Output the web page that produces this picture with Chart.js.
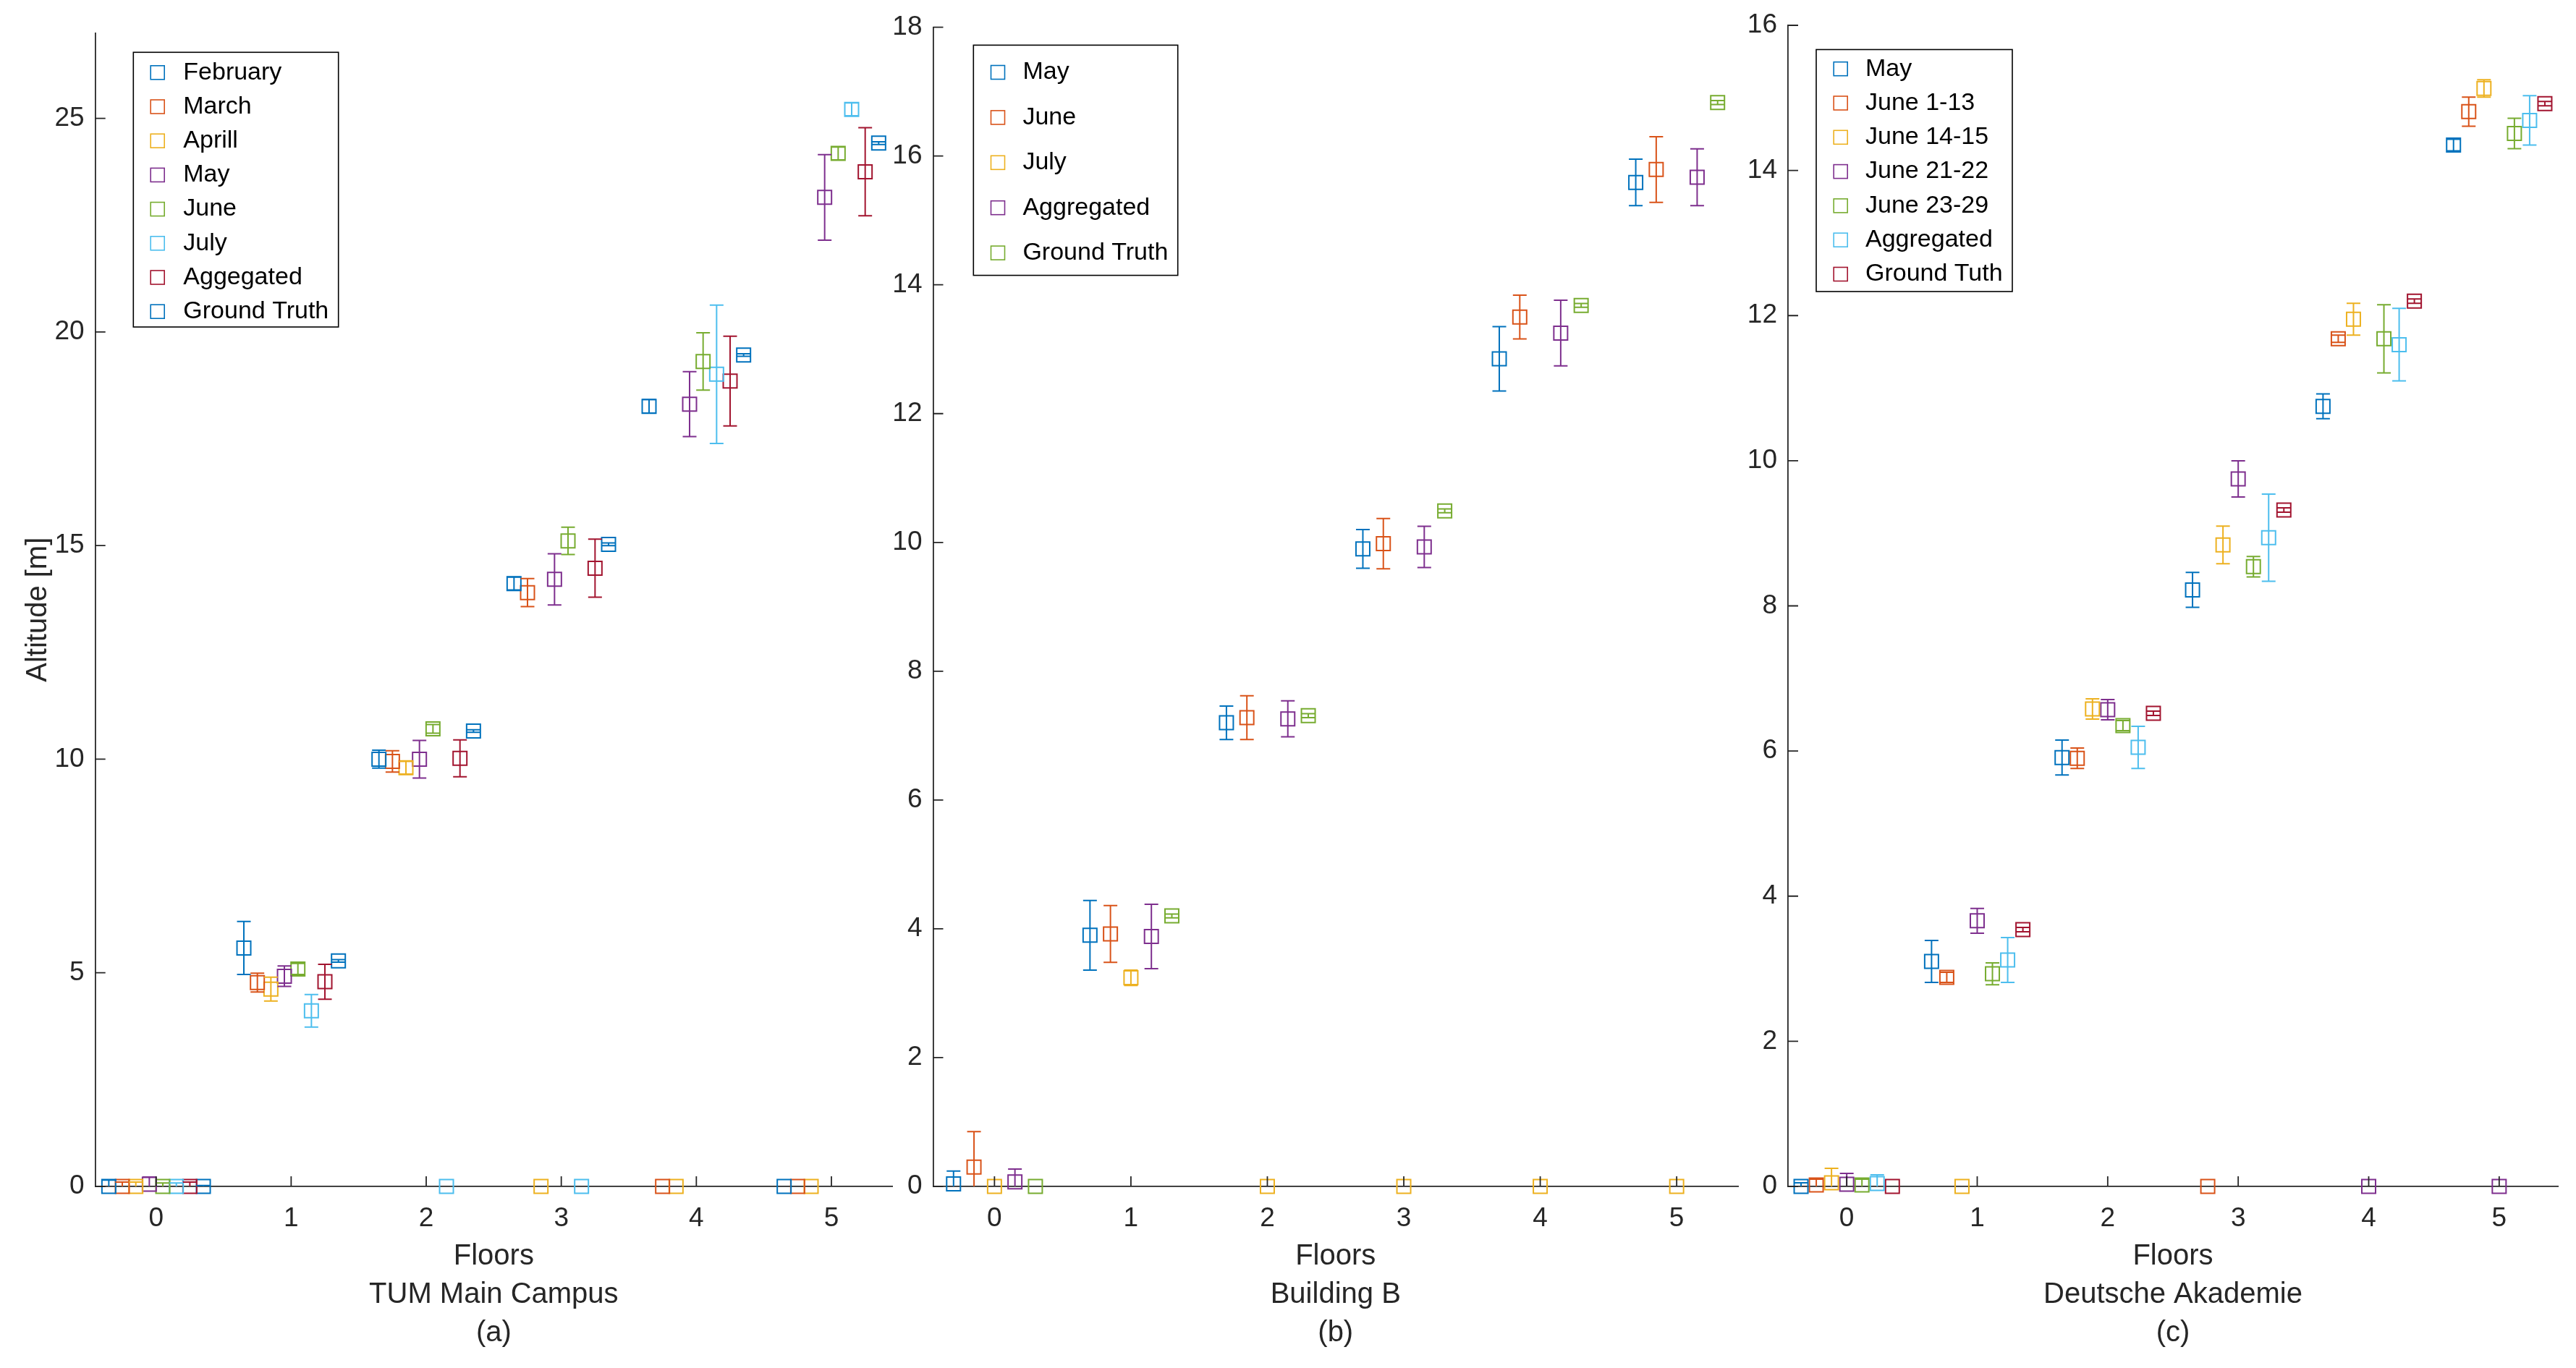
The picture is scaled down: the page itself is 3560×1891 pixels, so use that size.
<!DOCTYPE html>
<html><head><meta charset="utf-8">
<script src="https://cdn.jsdelivr.net/npm/chart.js@4/dist/chart.umd.min.js"></script>
<style>
html,body{margin:0;padding:0;background:#fff;width:3560px;height:1891px;overflow:hidden}
canvas{position:absolute;left:0;top:0}
</style></head><body>
<canvas id="ca" width="3560" height="1891"></canvas>
<canvas id="cb" width="3560" height="1891"></canvas>
<canvas id="cc" width="3560" height="1891"></canvas>
<script>
// ---------- shared ----------
const floors = [0, 1, 2, 3, 4, 5];
const xTicks = [0, 1, 2, 3, 4, 5];
const yTicksA = [0, 5, 10, 15, 20, 25];
const yTicksB = [0, 2, 4, 6, 8, 10, 12, 14, 16, 18];
const yTicksC = [0, 2, 4, 6, 8, 10, 12, 14, 16];

// ---------- panel (a) TUM Main Campus ----------
const seriesA = ['February', 'March', 'Aprill', 'May', 'June', 'July', 'Aggegated', 'Ground Truth'];
const aFeb    = [0, 5.58, 10.00, 14.11, 18.26, 0];
const aFebErr = [0.15, 0.62, 0.21, 0.15, 0.16, 0];
const aMar    = [0, 4.77, 9.95, 13.90, 0, 0];
const aMarErr = [0.10, 0.22, 0.25, 0.33, 0, 0];
const aApr    = [0, 4.62, 9.80, 0, 0, 0];
const aAprErr = [0.10, 0.28, 0.15, 0, 0, 0];
const aMay    = [0.05, 4.92, 10.00, 14.21, 18.31, 23.15];
const aMayErr = [0.17, 0.24, 0.44, 0.60, 0.76, 1.00];
const aJun    = [0, 5.09, 10.71, 15.11, 19.31, 24.18];
const aJunErr = [0.08, 0.13, 0.10, 0.32, 0.67, 0.15];
const aJul    = [0, 4.11, 0, 0, 19.01, 25.21];
const aJulErr = [0.08, 0.38, 0, 0, 1.62, 0.15];
const aAgg    = [0, 4.79, 10.02, 14.47, 18.85, 23.75];
const aAggErr = [0.10, 0.41, 0.43, 0.68, 1.05, 1.03];
const aGT     = [0, 5.28, 10.66, 15.03, 19.46, 24.42];
const aGTErr  = [0.02, 0.03, 0.03, 0.03, 0.03, 0.03];

// ---------- panel (b) Building B ----------
const seriesB = ['May', 'June', 'July', 'Aggregated', 'Ground Truth'];
const bMay    = [0.04, 3.90, 7.20, 9.90, 12.85, 15.59];
const bMayErr = [0.20, 0.54, 0.26, 0.30, 0.50, 0.36];
const bJun    = [0.30, 3.92, 7.28, 9.98, 13.50, 15.79];
const bJunErr = [0.55, 0.44, 0.34, 0.39, 0.34, 0.51];
const bJul    = [0, 3.24, 0, 0, 0, 0];
const bJulErr = [0, 0.12, 0, 0, 0, 0];
const bAgg    = [0.07, 3.88, 7.26, 9.93, 13.25, 15.67];
const bAggErr = [0.20, 0.50, 0.28, 0.32, 0.51, 0.44];
const bGT     = [0, 4.20, 7.31, 10.49, 13.68, 16.83];
const bGTErr  = [0, 0.03, 0.03, 0.03, 0.03, 0.03];

// ---------- panel (c) Deutsche Akademie ----------
const seriesC = ['May', 'June 1-13', 'June 14-15', 'June 21-22', 'June 23-29', 'Aggregated', 'Ground Tuth'];
const cMay     = [0, 3.10, 5.91, 8.22, 10.75, 14.35];
const cMayErr  = [0.05, 0.29, 0.24, 0.24, 0.17, 0.08];
const cJ1      = [0.02, 2.88, 5.90, 0, 11.68, 14.81];
const cJ1Err   = [0.08, 0.07, 0.14, 0, 0.05, 0.20];
const cJ14     = [0.05, 0, 6.58, 8.84, 11.95, 15.13];
const cJ14Err  = [0.20, 0, 0.14, 0.26, 0.22, 0.12];
const cJ21     = [0.03, 3.66, 6.57, 9.75, 0, 0];
const cJ21Err  = [0.15, 0.17, 0.14, 0.25, 0, 0];
const cJ23     = [0.02, 2.93, 6.35, 8.54, 11.68, 14.51];
const cJ23Err  = [0.08, 0.15, 0.07, 0.14, 0.47, 0.21];
const cAgg     = [0.04, 3.12, 6.05, 8.94, 11.60, 14.69];
const cAggErr  = [0.12, 0.31, 0.29, 0.60, 0.50, 0.34];
const cGT      = [0, 3.54, 6.52, 9.32, 12.20, 14.92];
const cGTErr   = [0, 0.03, 0.03, 0.03, 0.03, 0.03];

// ---------- styling ----------
const FONT = "'Liberation Sans', Arial, Helvetica, sans-serif";
const AX = '#262626';
const MCOL = ['#0072BD', '#D95319', '#EDB120', '#7E2F8E', '#77AC30', '#4DBEEE', '#A2142F'];
const W = 3560, H = 1891;
const MARK = 19;

function offsets(n, spread) {
  return Array.from({length: n}, (_, i) => -spread + i * 2 * spread / (n - 1));
}
function buildDatasets(names, vals, errs, spread) {
  const offs = offsets(names.length, spread);
  return names.map((name, i) => ({
    label: name,
    data: floors.map((f, j) => ({x: f + offs[i], y: vals[i][j], err: errs[i][j]})),
    borderColor: MCOL[i % MCOL.length],
    backgroundColor: 'rgba(0,0,0,0)',
    pointStyle: 'rect',
    pointRadius: MARK / Math.SQRT2,
    pointHoverRadius: MARK / Math.SQRT2,
    pointBorderWidth: 2,
    showLine: false,
    clip: false
  }));
}

const errorBars = {
  id: 'errorBars',
  afterDatasetsDraw(chart) {
    const {ctx, chartArea: a, scales: {x, y}} = chart;
    ctx.save();
    ctx.beginPath();
    ctx.rect(0, a.top - 1, W, a.bottom - a.top + 1);
    ctx.clip();
    chart.data.datasets.forEach(ds => {
      ctx.strokeStyle = ds.borderColor;
      ctx.lineWidth = 2;
      ds.data.forEach(p => {
        if (!p.err) return;
        const px = x.getPixelForValue(p.x);
        const y1 = y.getPixelForValue(p.y + p.err);
        const y0 = y.getPixelForValue(p.y - p.err);
        const hw = MARK / 2;
        ctx.beginPath();
        ctx.moveTo(px, y1); ctx.lineTo(px, y0);
        ctx.moveTo(px - hw, y1); ctx.lineTo(px + hw, y1);
        ctx.moveTo(px - hw, y0); ctx.lineTo(px + hw, y0);
        ctx.stroke();
      });
    });
    ctx.restore();
  }
};

const inwardTicks = {
  id: 'inwardTicks',
  afterDraw(chart) {
    const {ctx, chartArea: a, scales: {x, y}} = chart;
    ctx.save();
    ctx.strokeStyle = AX;
    ctx.lineWidth = 1.8;
    ctx.beginPath();
    x.ticks.forEach(t => {
      const px = x.getPixelForValue(t.value);
      ctx.moveTo(px, a.bottom); ctx.lineTo(px, a.bottom - 14);
    });
    y.ticks.forEach(t => {
      const py = y.getPixelForValue(t.value);
      ctx.moveTo(a.left, py); ctx.lineTo(a.left + 14, py);
    });
    ctx.stroke();
    ctx.restore();
  }
};

const boxLegend = {
  id: 'boxLegend',
  afterDraw(chart, args, o) {
    const {ctx} = chart;
    ctx.save();
    ctx.fillStyle = '#fff';
    ctx.fillRect(o.left, o.top, o.width, o.height);
    ctx.lineWidth = 1.6;
    ctx.strokeStyle = '#000';
    ctx.strokeRect(o.left, o.top, o.width, o.height);
    ctx.font = o.fontSize + 'px ' + FONT;
    ctx.textBaseline = 'middle';
    ctx.textAlign = 'left';
    chart.data.datasets.forEach((ds, i) => {
      const cy = o.firstY + i * o.rowH;
      ctx.strokeStyle = ds.borderColor;
      ctx.lineWidth = 1.6;
      ctx.strokeRect(o.markerX - MARK / 2, cy - MARK / 2, MARK, MARK);
      ctx.fillStyle = '#000';
      ctx.fillText(ds.label, o.textX, cy);
    });
    ctx.restore();
  }
};

function makeChart(id, datasets, cfg) {
  const yW = 110;
  const scaleBottom = 1869.5;
  new Chart(document.getElementById(id), {
    type: 'scatter',
    data: {datasets},
    options: {
      responsive: false,
      animation: false,
      devicePixelRatio: 1,
      events: [],
      layout: {padding: {left: cfg.left - yW, right: W - cfg.right, top: cfg.top, bottom: H - scaleBottom}},
      plugins: {legend: {display: false}, tooltip: {enabled: false}, boxLegend: cfg.legend},
      scales: {
        x: {
          type: 'linear', min: -0.45, max: 5.45,
          afterBuildTicks: s => { s.ticks = xTicks.map(v => ({value: v})); },
          afterFit: s => { s.height = scaleBottom - cfg.bottom; s.paddingLeft = 0; s.paddingRight = 0; },
          grid: {display: false, drawTicks: false},
          border: {display: true, color: AX, width: 1.8},
          ticks: {font: {family: FONT, size: 37}, color: AX, padding: 23, maxRotation: 0, autoSkip: false},
          title: {display: true, text: cfg.xTitle, font: {family: FONT, size: 40, lineHeight: 1.325}, color: AX, padding: 0}
        },
        y: {
          type: 'linear', min: 0, max: cfg.ymax,
          afterBuildTicks: s => { s.ticks = cfg.yTicks.map(v => ({value: v})); },
          afterFit: s => { s.width = yW; s.paddingTop = 0; s.paddingBottom = 0; },
          grid: {display: false, drawTicks: false},
          border: {display: true, color: AX, width: 1.8},
          ticks: {font: {family: FONT, size: 37}, color: AX, padding: 15},
          title: {display: !!cfg.yTitle, text: cfg.yTitle || '', font: {family: FONT, size: 40, lineHeight: 1.2}, color: AX, padding: {top: 7, bottom: 0}}
        }
      }
    },
    plugins: [errorBars, inwardTicks, boxLegend]
  });
}

makeChart('ca',
  buildDatasets(seriesA,
    [aFeb, aMar, aApr, aMay, aJun, aJul, aAgg, aGT],
    [aFebErr, aMarErr, aAprErr, aMayErr, aJunErr, aJulErr, aAggErr, aGTErr], 0.35),
  {left: 131.7, right: 1233, top: 45.5, bottom: 1640, ymax: 27, yTicks: yTicksA,
   xTitle: ['Floors', 'TUM Main Campus', '(a)'], yTitle: 'Altitude [m]',
   legend: {left: 184.3, top: 72.3, width: 283.4, height: 379.7, firstY: 100.3, rowH: 47.2, markerX: 217.7, textX: 253.3, fontSize: 34}});

makeChart('cb',
  buildDatasets(seriesB,
    [bMay, bJun, bJul, bAgg, bGT],
    [bMayErr, bJunErr, bJulErr, bAggErr, bGTErr], 0.3),
  {left: 1289.5, right: 2402, top: 37.6, bottom: 1640, ymax: 18, yTicks: yTicksB,
   xTitle: ['Floors', 'Building B', '(b)'],
   legend: {left: 1345.3, top: 62.4, width: 282.4, height: 318.2, firstY: 100, rowH: 62.4, markerX: 1379, textX: 1413.4, fontSize: 34}});

makeChart('cc',
  buildDatasets(seriesC,
    [cMay, cJ1, cJ14, cJ21, cJ23, cAgg, cGT],
    [cMayErr, cJ1Err, cJ14Err, cJ21Err, cJ23Err, cAggErr, cGTErr], 0.35),
  {left: 2471, right: 3535, top: 35, bottom: 1640, ymax: 16, yTicks: yTicksC,
   xTitle: ['Floors', 'Deutsche Akademie', '(c)'],
   legend: {left: 2510, top: 68.5, width: 271, height: 334.5, firstY: 95.2, rowH: 47.3, markerX: 2543.7, textX: 2578, fontSize: 34}});
</script>
</body></html>
